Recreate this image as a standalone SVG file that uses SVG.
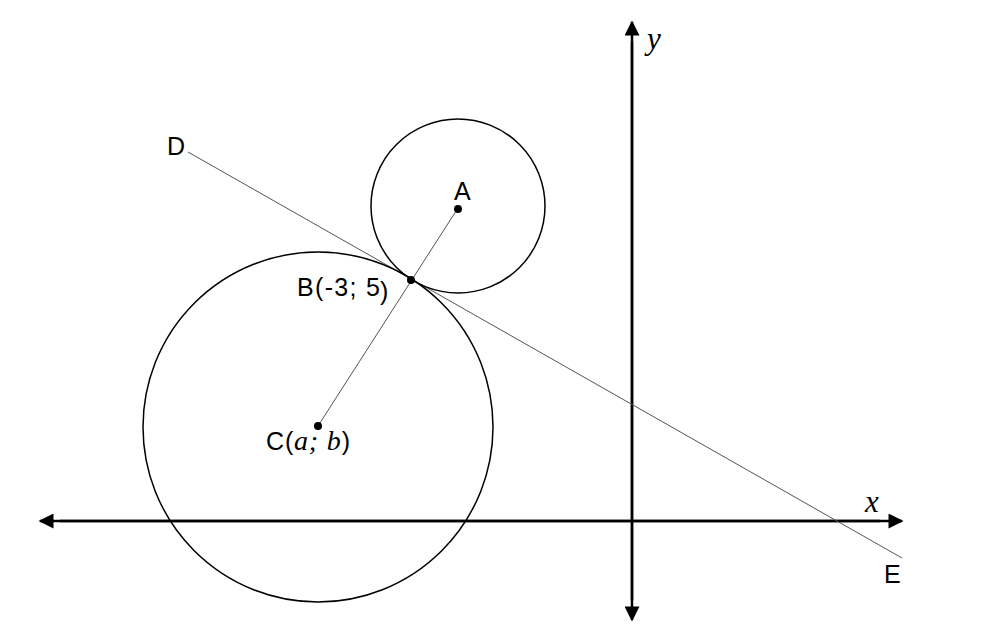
<svg xmlns="http://www.w3.org/2000/svg" width="993" height="634" viewBox="0 0 993 634">
<style>
.lbl{font-family:"Liberation Sans",Arial,sans-serif;font-size:25px;fill:#000}
.it{font-family:"Liberation Serif","Times New Roman",serif;font-style:italic;fill:#000}
.circ{fill:none;stroke:#000;stroke-width:1.5}
.thin{stroke:#555;stroke-width:1;fill:none}
.axis{stroke:#000;stroke-width:2.5;fill:none}
</style>
<defs>
<marker id="ah" viewBox="0 0 10 10" refX="9" refY="5" markerWidth="7" markerHeight="6" markerUnits="strokeWidth" orient="auto">
<path d="M0,0 L10,5 L0,10 z" fill="#000"/>
</marker>
</defs>
<rect width="993" height="634" fill="#fff"/>
<g id="connectors">
<line class="axis" x1="632" y1="600" x2="632" y2="22" marker-end="url(#ah)"/>
<line class="axis" x1="632" y1="42" x2="632" y2="620" marker-end="url(#ah)"/>
<line class="axis" x1="60" y1="521" x2="902" y2="521" marker-end="url(#ah)"/>
<line class="axis" x1="880" y1="521" x2="40" y2="521" marker-end="url(#ah)"/>
<line id="DE" class="thin" x1="188" y1="152" x2="902" y2="558"/>
<line id="CA" class="thin" x1="318" y1="426" x2="458" y2="208"/>
</g>
<g id="circleA"><circle class="circ" cx="458" cy="206" r="87"/></g>
<g id="circleC"><circle class="circ" cx="318" cy="427" r="175"/></g>
<g id="pointA"><circle cx="458" cy="209" r="4" fill="#000"/><text class="lbl" x="454" y="200">A</text></g>
<g id="pointB"><circle cx="411" cy="280" r="4" fill="#000"/><text class="lbl" x="297" y="296" textLength="83" lengthAdjust="spacing">B(-3; 5</text><text class="lbl" x="380" y="300" font-size="36">)</text></g>
<g id="pointC"><circle cx="318" cy="426" r="4" fill="#000"/><text class="lbl" x="266" y="450" textLength="84" lengthAdjust="spacing">C(<tspan class="it" font-size="28">a; b</tspan>)</text></g>
<g id="pointD"><text class="lbl" x="167" y="155">D</text></g>
<g id="pointE"><text class="lbl" x="884" y="583">E</text></g>
<g id="axisX"><text class="it" font-size="31" x="865" y="512">x</text></g>
<g id="axisY"><text class="it" font-size="31" x="647" y="49">y</text></g>
</svg>
